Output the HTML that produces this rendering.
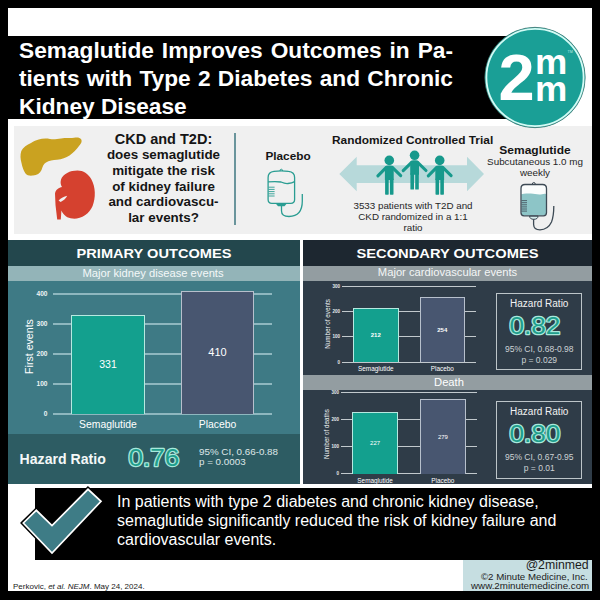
<!DOCTYPE html>
<html><head><meta charset="utf-8">
<style>
*{margin:0;padding:0;box-sizing:border-box}
html,body{width:600px;height:600px;overflow:hidden;background:#000}
body{position:relative;font-family:"Liberation Sans",Arial,sans-serif}
.a{position:absolute}
.t{position:absolute;white-space:nowrap}
.c{text-align:center}
.title{left:19px;width:434px;color:#fff;font-weight:700;font-size:22.7px;line-height:28px;text-align:justify;text-align-last:justify}
.gl{position:absolute;height:1px}
</style></head><body>
<!-- top white strip -->
<div class="a" style="left:8px;top:8px;width:584px;height:111px;background:#fff"></div>
<!-- black title bar -->
<div class="a" style="left:8px;top:36px;width:530px;height:83px;background:#000"></div>
<div class="t title" style="top:35.6px">Semaglutide Improves Outcomes in Pa-</div>
<div class="t title" style="top:63.6px">tients with Type 2 Diabetes and Chronic</div>
<div class="t" style="left:19px;top:91.6px;color:#fff;font-weight:700;font-size:22.7px;line-height:28px">Kidney Disease</div>

<!-- info panel -->
<div class="a" style="left:8px;top:119px;width:584px;height:472px;background:#fff"></div>
<div class="a" style="left:14px;top:126px;width:578px;height:108px;background:#f0f0f0"></div>

<!-- logo -->
<svg class="a" style="left:480px;top:22px" width="112" height="112" viewBox="480 22 112 112">
  <circle cx="535" cy="77.5" r="50.2" fill="#1a9f96" stroke="#3d6b68" stroke-width="0.7"/>
  <circle cx="535" cy="77.5" r="48.6" fill="none" stroke="#d4fbf5" stroke-width="1.8"/>
  <text x="498.5" y="100" font-family="Liberation Sans" font-weight="700" font-size="65" fill="#fff">2</text>
  <text x="535" y="73.6" font-family="Liberation Sans" font-weight="700" font-size="35" fill="#fff" textLength="32.3" lengthAdjust="spacingAndGlyphs">m</text>
  <text x="535" y="100.8" font-family="Liberation Sans" font-weight="700" font-size="35" fill="#fff" textLength="32.3" lengthAdjust="spacingAndGlyphs">m</text>
  <text x="567.5" y="52.5" font-family="Liberation Sans" font-size="3.6" fill="#bfe9e3">TM</text>
</svg>

<!-- organs -->
<svg class="a" style="left:0;top:0" width="240" height="240" viewBox="0 0 240 240">
  <path d="M81.3 139.4 C79.5 137.2 77 137.4 74 137.8 C70 138.2 66 137.6 61 138.4 C57 138.9 54 139.8 50 139 C46 138.3 42 138.6 38.7 139.4 C35.5 140.3 33 141.5 31 143 C27 144.5 23 147.5 21.3 151 C20 155 20.4 159 21.5 163 C22.3 167 23.6 171 25.5 173.5 C27 175.6 30 176 33 175.6 C37 175 40 173.5 41.5 170 C42.6 166.5 43.5 164 46 162.4 C49 160.6 53 160 57 159.7 C62 159.2 66 157.6 69.5 155.5 C73.5 152.8 76.5 149.5 79 146 C81 143.5 82.3 141.5 81.3 139.4 Z" fill="#caa220"/>
  <path d="M77.5 170.6 C70 170.6 63 174 61 179.5 C60 183 61 185.5 62 187 C59 187.5 55.8 189.5 55 193.5 L55.5 205 L57.2 219.6 L60.8 219.6 L61.4 210.5 C63.5 215.2 67.5 218.3 72.5 218.6 C81 219.2 89 214.5 92.6 206 C95.8 198 95.8 187 91.2 179 C88 173.8 83.5 170.6 77.5 170.6 Z" fill="#d5412f"/>
  <path d="M58.6 200.6 C61 198.2 64 196.4 67.2 195.8 C65.8 198.6 63.4 200.8 60.6 202 Z" fill="#f0f0f0"/>
</svg>

<div class="t c" style="left:103px;width:121px;top:131.6px;font-weight:700;font-size:13.4px;line-height:15.7px;color:#151515"><span style="font-size:14.5px">CKD and T2D:</span><br>does semaglutide<br>mitigate the risk<br>of kidney failure<br>and cardiovascu-<br>lar events?</div>
<div class="a" style="left:234.4px;top:132.5px;width:1.4px;height:92.5px;background:#6a959c"></div>

<div class="t c" style="left:258px;width:60px;top:149.2px;font-weight:700;font-size:11.8px;line-height:14px;color:#151515;transform:scaleY(0.93)">Placebo</div>
<div class="t c" style="left:332px;width:160px;top:132.7px;font-weight:700;font-size:11.9px;line-height:14px;color:#151515;transform:scaleY(0.9)">Randomized Controlled Trial</div>
<div class="t c" style="left:493px;width:84px;top:142.8px;font-weight:700;font-size:12px;line-height:14px;color:#151515;transform:scaleY(0.92)">Semaglutide</div>
<div class="t c" style="left:480px;width:110px;top:155.6px;font-size:9.85px;line-height:11px;color:#262626">Subcutaneous 1.0 mg<br>weekly</div>
<div class="t c" style="left:353px;width:120px;top:199.5px;font-size:9.8px;line-height:11.4px;color:#262626">3533 patients with T2D and<br>CKD randomized in a 1:1<br>ratio</div>

<!-- arrow + people -->
<svg class="a" style="left:330px;top:150px" width="160" height="50" viewBox="330 150 160 50">
  <path d="M339.3 174 L356.7 156.7 L356.7 165.3 L467 165.3 L467 156.7 L484 174 L467 191.3 L467 183 L356.7 183 L356.7 191.3 Z" fill="#b7d9da"/>
  <g fill="#17998c">
    <circle cx="389.3" cy="160.4" r="4.8"/>
    <path d="M384.90000000000003 179.9 L384.90000000000003 168.4 Q384.90000000000003 165.4 387.90000000000003 165.4 L390.7 165.4 Q393.7 165.4 393.7 168.4 L393.7 179.9 Z"/>
    <rect x="385.1" y="178.4" width="3.6" height="16.299999999999997" rx="0.6"/>
    <rect x="389.90000000000003" y="178.4" width="3.6" height="16.299999999999997" rx="0.6"/>
    <path d="M377.90000000000003 175.8 L386.3 167.4 M392.3 167.4 L400.7 175.6" stroke="#17998c" stroke-width="3.1" stroke-linecap="round" fill="none"/>
    <circle cx="414.6" cy="155.3" r="4.8"/>
    <path d="M410.20000000000005 174.8 L410.20000000000005 163.3 Q410.20000000000005 160.3 413.20000000000005 160.3 L416.0 160.3 Q419.0 160.3 419.0 163.3 L419.0 174.8 Z"/>
    <rect x="410.40000000000003" y="173.3" width="3.6" height="16.299999999999997" rx="0.6"/>
    <rect x="415.20000000000005" y="173.3" width="3.6" height="16.299999999999997" rx="0.6"/>
    <path d="M403.20000000000005 170.70000000000002 L411.6 162.3 M417.6 162.3 L426.0 170.5" stroke="#17998c" stroke-width="3.1" stroke-linecap="round" fill="none"/>
    <circle cx="439.7" cy="160.4" r="4.8"/>
    <path d="M435.3 179.9 L435.3 168.4 Q435.3 165.4 438.3 165.4 L441.09999999999997 165.4 Q444.09999999999997 165.4 444.09999999999997 168.4 L444.09999999999997 179.9 Z"/>
    <rect x="435.5" y="178.4" width="3.6" height="16.299999999999997" rx="0.6"/>
    <rect x="440.3" y="178.4" width="3.6" height="16.299999999999997" rx="0.6"/>
    <path d="M428.3 175.8 L436.7 167.4 M442.7 167.4 L451.09999999999997 175.6" stroke="#17998c" stroke-width="3.1" stroke-linecap="round" fill="none"/>
  </g>
</svg>

<!-- IV bags -->
<svg class="a" style="left:260px;top:163px" width="50" height="57" viewBox="260 163 50 57">
  <g fill="none" stroke="#2a9d92" stroke-width="1.3">
    <path d="M274 171.3 Q281.3 170.3 288.5 171.3 Q294.6 172 294.6 177.5 L294.6 199.5 Q294.6 203.3 290.8 203.3 L271.8 203.3 Q268.1 203.3 268.1 199.5 L268.1 177.5 Q268.1 172 274 171.3 Z"/>
    <path d="M268.1 181.9 Q276 181.2 281 182 Q285 183.8 288 183.5 Q292 183.2 294.6 181.6"/>
    <path d="M281.5 206 L281.5 211 Q281.5 216.5 289 216.5 Q302.3 216.3 302.3 201 L302.3 194"/>
    <path d="M280 171 Q280 169.2 281.3 169.2 Q282.6 169.2 282.6 171" stroke-width="1"/>
  </g>
  <path d="M275.5 203.3 L287 203.3 L284.5 206.2 L278 206.2 Z" fill="#2a9d92"/>
  <g stroke="#2a9d92" stroke-width="0.9">
    <line x1="268.5" y1="187.2" x2="274.6" y2="187.2"/><line x1="268.5" y1="189.4" x2="274.6" y2="189.4"/>
    <line x1="268.5" y1="191.6" x2="274.6" y2="191.6"/><line x1="268.5" y1="193.8" x2="274.6" y2="193.8"/>
    <line x1="268.5" y1="196" x2="274.6" y2="196"/>
  </g>
</svg>
<svg class="a" style="left:515px;top:178px" width="45" height="55" viewBox="515 178 45 55">
  <path d="M525 184.5 L542.5 184.5 Q546.5 184.5 546.5 188.5 L546.5 212.8 Q546.5 215.8 543.5 215.8 L524 215.8 Q521 215.8 521 212.8 L521 188.5 Q521 184.5 525 184.5 Z" fill="#fbfdfd"/>
  <path d="M521.3 194.2 Q525 193.2 528 193.6 Q532 193 535 194 Q539 194.8 542 194.2 Q544.5 193.6 546.3 194 L546.3 212.5 Q546.3 215.5 543.5 215.5 L524 215.5 Q521.3 215.5 521.3 212.5 Z" fill="#8dc5c7"/>
  <path d="M529.6 216 L538 216 Q538 219.3 533.8 219.3 Q529.6 219.3 529.6 216 Z" fill="#d6ecec" stroke="#3d4a55" stroke-width="1"/>
  <g fill="none" stroke="#3d4a55" stroke-width="1.3">
    <path d="M525 184.5 L542.5 184.5 Q546.5 184.5 546.5 188.5 L546.5 212.8 Q546.5 215.8 543.5 215.8 L524 215.8 Q521 215.8 521 212.8 L521 188.5 Q521 184.5 525 184.5 Z"/>
    <path d="M533.6 219.3 L533.6 224.5 Q533.8 229.8 540 229.8 Q548 229.6 551.5 222 Q553.8 216 553.8 206"/>
    <path d="M532.3 184.3 Q532.3 182.5 533.8 182.5 Q535.3 182.5 535.3 184.3" stroke-width="1"/>
  </g>
  <g stroke="#3d4a55" stroke-width="0.8">
    <line x1="521.5" y1="200.6" x2="527" y2="200.6"/><line x1="521.5" y1="202.7" x2="527" y2="202.7"/>
    <line x1="521.5" y1="204.8" x2="527" y2="204.8"/><line x1="521.5" y1="206.9" x2="527" y2="206.9"/>
    <line x1="521.5" y1="209" x2="527" y2="209"/><line x1="521.5" y1="211.1" x2="527" y2="211.1"/>
  </g>
</svg>

<!-- ============ PRIMARY PANEL ============ -->
<div class="a" style="left:8px;top:240px;width:292px;height:25.5px;background:#23474d"></div>
<div class="a" style="left:8px;top:265.5px;width:292px;height:15.5px;background:#93b4b8"></div>
<div class="a" style="left:8px;top:281px;width:292px;height:153px;background:#3e7a85"></div>
<div class="a" style="left:8px;top:434px;width:292px;height:50px;background:#2d5c63"></div>
<div class="t c" style="left:8px;width:292px;top:244.7px;font-weight:700;font-size:14.6px;line-height:17px;color:#fff;transform:scaleY(0.92)">PRIMARY OUTCOMES</div>
<div class="t c" style="left:8px;width:290px;top:266.5px;font-size:11.2px;line-height:13px;color:#f4f8f8">Major kidney disease events</div>

<!-- gridlines primary -->
<div class="gl" style="left:53px;width:219px;top:293px;height:2px;background:#8eb7bf"></div>
<div class="gl" style="left:53px;width:219px;top:323px;height:2px;background:#8eb7bf"></div>
<div class="gl" style="left:53px;width:219px;top:353px;height:2px;background:#8eb7bf"></div>
<div class="gl" style="left:53px;width:219px;top:383px;height:2px;background:#8eb7bf"></div>
<div class="gl" style="left:53px;width:219px;top:413px;height:2px;background:#8eb7bf"></div>
<div class="t" style="left:27.5px;width:20px;text-align:right;top:289.5px;font-weight:700;font-size:6.6px;line-height:8px;color:#eef4f5">400</div>
<div class="t" style="left:27.5px;width:20px;text-align:right;top:319.5px;font-weight:700;font-size:6.6px;line-height:8px;color:#eef4f5">300</div>
<div class="t" style="left:27.5px;width:20px;text-align:right;top:349.5px;font-weight:700;font-size:6.6px;line-height:8px;color:#eef4f5">200</div>
<div class="t" style="left:27.5px;width:20px;text-align:right;top:379.5px;font-weight:700;font-size:6.6px;line-height:8px;color:#eef4f5">100</div>
<div class="t" style="left:27.5px;width:20px;text-align:right;top:409.5px;font-weight:700;font-size:6.6px;line-height:8px;color:#eef4f5">0</div>
<div class="a" style="left:71px;top:314.7px;width:73.5px;height:99.2px;background:#13a08e;border:1px solid #b7e9e0;border-bottom:none"></div>
<div class="a" style="left:181px;top:291px;width:73px;height:122.9px;background:#485670;border:1px solid #b7c0cc;border-bottom:none"></div>
<div class="t c" style="left:71.5px;width:73px;top:357.5px;font-size:10.5px;line-height:12px;color:#fff">331</div>
<div class="t c" style="left:181px;width:73px;top:346px;font-size:11px;line-height:12px;color:#fff">410</div>
<div class="t c" style="left:-0.7px;width:60px;top:340.3px;font-size:10.6px;line-height:13px;color:#fff;transform:rotate(-90deg)">First events</div>
<div class="t c" style="left:71.5px;width:73px;top:418.8px;font-size:10.4px;line-height:12px;color:#fff">Semaglutide</div>
<div class="t c" style="left:181px;width:73px;top:418.8px;font-size:10.4px;line-height:12px;color:#fff">Placebo</div>

<div class="t" style="left:19.6px;top:449.7px;font-weight:700;font-size:14.1px;line-height:18px;color:#f4f8f8">Hazard Ratio</div>
<svg class="a" style="left:120px;top:440px" width="70" height="34" viewBox="120 440 70 34"><text x="128.4" y="465.9" transform="translate(128.4 0) scale(1.08 1) translate(-128.4 0)" font-family="Liberation Sans" font-size="24.3" fill="#1f9e8c" stroke="#a9e8dc" stroke-width="2.4" paint-order="stroke" stroke-linejoin="round">0.76</text></svg>
<div class="t" style="left:199px;top:446.6px;font-size:9.8px;line-height:10.7px;color:#dfe7e8">95% CI, 0.66-0.88<br>p = 0.0003</div>

<!-- ============ SECONDARY PANEL ============ -->
<div class="a" style="left:303px;top:240px;width:289px;height:25.5px;background:#1d2730"></div>
<div class="a" style="left:303px;top:265.5px;width:289px;height:15.5px;background:#939da1"></div>
<div class="a" style="left:303px;top:281px;width:289px;height:94.5px;background:#2f3c48"></div>
<div class="a" style="left:303px;top:374.7px;width:289px;height:15.1px;background:#939da1"></div>
<div class="a" style="left:303px;top:389.5px;width:289px;height:94.5px;background:#2f3c48"></div>
<div class="t c" style="left:303px;width:289px;top:244.8px;font-weight:700;font-size:14.7px;line-height:17px;color:#fff;transform:scaleY(0.92)">SECONDARY OUTCOMES</div>
<div class="t c" style="left:303px;width:289px;top:266px;font-size:11.2px;line-height:13px;color:#f4f6f6">Major cardiovascular events</div>
<div class="t c" style="left:303px;width:292px;top:375.5px;font-size:11.2px;line-height:13px;color:#fff">Death</div>

<!-- chart 1 -->
<div class="gl" style="left:342px;width:134px;top:362px;height:1px;background:#c2c9cd"></div>
<div class="gl" style="left:342px;width:134px;top:336px;height:1px;background:#c2c9cd"></div>
<div class="gl" style="left:342px;width:134px;top:311px;height:1px;background:#c2c9cd"></div>
<div class="gl" style="left:342px;width:134px;top:286px;height:1px;background:#c2c9cd"></div>
<div class="t" style="left:325px;width:15px;text-align:right;top:359.7px;font-weight:700;font-size:4.5px;line-height:5px;color:#e6eaec">0</div>
<div class="t" style="left:325px;width:15px;text-align:right;top:334.3px;font-weight:700;font-size:4.5px;line-height:5px;color:#e6eaec">100</div>
<div class="t" style="left:325px;width:15px;text-align:right;top:308.9px;font-weight:700;font-size:4.5px;line-height:5px;color:#e6eaec">200</div>
<div class="t" style="left:325px;width:15px;text-align:right;top:283.5px;font-weight:700;font-size:4.5px;line-height:5px;color:#e6eaec">300</div>
<div class="a" style="left:353px;top:307.9px;width:45.6px;height:54.4px;background:#13a08e;border:1px solid #b7e9e0;border-bottom:none"></div>
<div class="a" style="left:420px;top:297.2px;width:44.6px;height:65.1px;background:#485670;border:1px solid #b7c0cc;border-bottom:none"></div>
<div class="t c" style="left:353px;width:45.6px;top:330.9px;font-weight:700;font-size:6px;line-height:8px;color:#fff">212</div>
<div class="t c" style="left:420px;width:44.6px;top:326.0px;font-weight:700;font-size:6px;line-height:8px;color:#fff">254</div>
<div class="t c" style="left:345.8px;width:60px;top:365.0px;font-size:6.4px;line-height:7px;color:#fff">Semaglutide</div>
<div class="t c" style="left:412.3px;width:60px;top:365.0px;font-size:6.4px;line-height:7px;color:#fff">Placebo</div>
<div class="t c" style="left:301.5px;width:52px;top:320.3px;font-size:6.3px;line-height:8px;color:#f2f4f5;transform:rotate(-90deg)">Number of events</div>

<!-- chart 2 -->
<div class="gl" style="left:341px;width:136px;top:473px;height:1px;background:#c2c9cd"></div>
<div class="gl" style="left:341px;width:136px;top:446px;height:1px;background:#c2c9cd"></div>
<div class="gl" style="left:341px;width:136px;top:419px;height:1px;background:#c2c9cd"></div>
<div class="gl" style="left:341px;width:136px;top:392px;height:1px;background:#c2c9cd"></div>
<div class="t" style="left:324px;width:15px;text-align:right;top:471.4px;font-weight:700;font-size:4.5px;line-height:5px;color:#e6eaec">0</div>
<div class="t" style="left:324px;width:15px;text-align:right;top:444.4px;font-weight:700;font-size:4.5px;line-height:5px;color:#e6eaec">100</div>
<div class="t" style="left:324px;width:15px;text-align:right;top:417.4px;font-weight:700;font-size:4.5px;line-height:5px;color:#e6eaec">200</div>
<div class="t" style="left:324px;width:15px;text-align:right;top:390.4px;font-weight:700;font-size:4.5px;line-height:5px;color:#e6eaec">300</div>
<div class="a" style="left:352px;top:412.1px;width:46.2px;height:61.9px;background:#13a08e;border:1px solid #b7e9e0;border-bottom:none"></div>
<div class="a" style="left:420.2px;top:398.7px;width:45.5px;height:75.3px;background:#485670;border:1px solid #b7c0cc;border-bottom:none"></div>
<div class="t c" style="left:352px;width:46.2px;top:439.1px;font-size:6px;line-height:8px;color:#fff">227</div>
<div class="t c" style="left:420.2px;width:45.5px;top:432.6px;font-size:6px;line-height:8px;color:#fff">279</div>
<div class="t c" style="left:345.1px;width:60px;top:476.5px;font-size:6.4px;line-height:7px;color:#fff">Semaglutide</div>
<div class="t c" style="left:412.9px;width:60px;top:476.5px;font-size:6.4px;line-height:7px;color:#fff">Placebo</div>
<div class="t c" style="left:300.7px;width:52px;top:429.6px;font-size:6.3px;line-height:8px;color:#f2f4f5;transform:rotate(-90deg)">Number of deaths</div>

<!-- HR boxes -->
<div class="a" style="left:495.8px;top:292.6px;width:86.2px;height:77.8px;border:1.3px solid #bdc5c9"></div>
<div class="t c" style="left:496.5px;width:85.5px;top:297.8px;font-size:10px;line-height:11px;color:#f2f2f2">Hazard Ratio</div>
<svg class="a" style="left:500px;top:308px" width="70" height="34" viewBox="500 308 70 34"><text x="509.4" y="334.3" transform="translate(509.4 0) scale(1.08 1) translate(-509.4 0)" font-family="Liberation Sans" font-size="24.3" fill="#1f9e8c" stroke="#a9e8dc" stroke-width="2.4" paint-order="stroke" stroke-linejoin="round">0.82</text></svg>
<div class="t c" style="left:496.5px;width:85.5px;top:343.9px;font-size:8.5px;line-height:10.8px;color:#cdd2d5">95% CI, 0.68-0.98<br>p = 0.029</div>

<div class="a" style="left:495.8px;top:401px;width:86.2px;height:77.6px;border:1.3px solid #bdc5c9"></div>
<div class="t c" style="left:496.5px;width:85.5px;top:405.6px;font-size:10px;line-height:11px;color:#f2f2f2">Hazard Ratio</div>
<svg class="a" style="left:500px;top:416px" width="70" height="34" viewBox="500 416 70 34"><text x="509.4" y="442.4" transform="translate(509.4 0) scale(1.08 1) translate(-509.4 0)" font-family="Liberation Sans" font-size="24.3" fill="#1f9e8c" stroke="#a9e8dc" stroke-width="2.4" paint-order="stroke" stroke-linejoin="round">0.80</text></svg>
<div class="t c" style="left:496.5px;width:85.5px;top:452px;font-size:8.5px;line-height:10.8px;color:#cdd2d5">95% CI, 0.67-0.95<br>p = 0.01</div>

<!-- ============ BOTTOM ============ -->
<div class="a" style="left:8px;top:484px;width:584px;height:107px;background:#fff"></div>
<div class="a" style="left:35px;top:488px;width:557px;height:72px;background:#000"></div>
<svg class="a" style="left:0;top:480px" width="120" height="80" viewBox="0 480 120 80">
  <path d="M23.3 523 L36.3 510.3 L52 525.6 L88 489.3 L101 501.3 L52 553 Z" fill="#000" stroke="#000" stroke-width="4.6" stroke-linejoin="miter"/>
  <path d="M23.3 523 L36.3 510.3 L52 525.6 L88 489.3 L101 501.3 L52 553 Z" fill="#3e7c86" stroke="#fff" stroke-width="1.7" stroke-linejoin="miter"/>
</svg>
<div class="t" style="left:117px;top:492.7px;font-size:16px;line-height:18.95px;color:#fff">In patients with type 2 diabetes and chronic kidney disease,<br>semaglutide significantly reduced the risk of kidney failure and<br>cardiovascular events.</div>
<div class="a" style="left:462.5px;top:560px;width:129.5px;height:31.5px;background:#c6dee1"></div>
<div class="t" style="right:11.3px;top:558.8px;font-size:12.3px;line-height:12px;color:#1c1c1c;text-align:right">@2minmed</div>
<div class="t" style="right:12.3px;top:571.8px;font-size:9.7px;line-height:10px;color:#1c1c1c;text-align:right">©2 Minute Medicine, Inc.</div>
<div class="t" style="right:10.8px;top:581.3px;font-size:9.75px;line-height:10px;color:#1c1c1c;text-align:right">www.2minutemedicine.com</div>
<div class="t" style="left:13px;top:582px;font-size:8px;line-height:10px;color:#1a1a1a">Perkovic, <i>et al.</i> <i>NEJM</i>. May 24, 2024.</div>
<!-- bottom border -->
<div class="a" style="left:0;top:591px;width:600px;height:9px;background:#000"></div>
</body></html>
